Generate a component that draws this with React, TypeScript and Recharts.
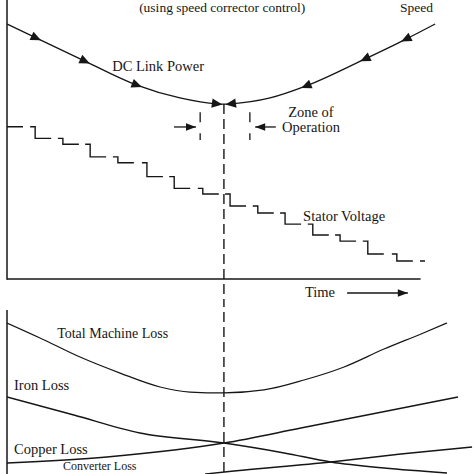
import { ComposedChart, Line, XAxis, YAxis, ReferenceLine, ReferenceDot } from 'recharts'

// time axis is 0..106 (arbitrary units), magnitudes are arbitrary units too

// DC link power (top panel)
const powerTime = [0, 6.6, 17.7, 29.5, 39.3, 47.7, 49.3, 50.9, 59.8, 68.0, 81.4, 90.7, 97.3]
const powerValue = [91.4, 86.4, 78.1, 69.5, 64.9, 62.8, 62.7, 62.8, 64.9, 69.2, 78.9, 86.0, 91.4]
// arrow marker on a point: 1 = pointing to later time, -1 = to earlier time, 0 = none
const powerArrow = [0, 1, 1, 1, 0, 1, 0, -1, 0, -1, -1, -1, 0]

// stator voltage staircase (top panel)
const stepTime = [0, 6.4, 12.7, 18.9, 25.2, 31.8, 38.0, 44.5, 50.7, 57.0, 63.2, 69.5, 75.7, 82.0, 88.6]
const stepLevel = [54.6, 50.4, 48.3, 43.8, 41.7, 36.7, 32.5, 30.5, 26.2, 23.7, 19.7, 15.8, 13.6, 9.0, 6.5]
const stepEnd = 95.0

// losses (bottom panel)
const totalTime = [0, 7.5, 16.6, 25.7, 34.8, 41.6, 49.3, 58.4, 67.5, 76.6, 85.7, 94.1, 100]
const totalLoss = [86.8, 78.2, 67.2, 58.0, 50.0, 47.1, 46.6, 48.3, 54.0, 61.5, 71.8, 80.5, 86.8]
const ironTime = [0, 15.2, 30.2, 49.3, 63.0, 73.6, 85.7, 100]
const ironLoss = [44.3, 33.9, 23.6, 17.8, 12.1, 6.9, 3.4, 0.6]
const copperTime = [0, 22.7, 38.0, 49.3, 66.8, 81.8, 102.5]
const copperLoss = [6.3, 9.8, 13.8, 17.8, 26.4, 33.9, 44.3]
const converterTime = [45, 51.6, 73.6, 89.5, 105.7]
const converterLoss = [0, 1.7, 6.9, 11.5, 15.5]

const optimumTime = 49.3
const zoneStart = 43.9
const zoneEnd = 55.2

const W = 474
const TOP_H = 300
const BOT_H = 174
const X_DOMAIN: [number, number] = [0, 106]
const TOP_DOMAIN: [number, number] = [-7.5, 100]
const BOT_DOMAIN: [number, number] = [0, 100]
const MARGIN = { top: 0, right: 0.6, bottom: 0, left: 7 }
const PX_T = (W - 7.6) / 106
const PX_M = TOP_H / 107.5

const INK = '#161616'
const FONT = '"Liberation Serif", "Times New Roman", serif'

const zip = (ts: number[], vs: number[]) => ts.map((t, i) => ({ t, v: vs[i] }))

const powerData = zip(powerTime, powerValue)

// dashed staircase: each tread drawn as a long dash, a gap, then a short piece before the riser
const DASH = 16 / PX_T
const PIECE = 5 / PX_T
const stepData: { t: number; v: number | null }[] = []
stepLevel.forEach((v, i) => {
  const t0 = stepTime[i]
  const t1 = i + 1 < stepTime.length ? stepTime[i + 1] : stepEnd
  if (i > 0) stepData.push({ t: t0, v: stepLevel[i - 1] })
  stepData.push({ t: t0, v })
  stepData.push({ t: t0 + DASH, v })
  stepData.push({ t: t0 + DASH + 0.01, v: null })
  stepData.push({ t: t1 - PIECE, v })
})
stepData.push({ t: stepEnd, v: stepLevel[stepLevel.length - 1] })

function FlowArrow(props: any) {
  const { cx, cy, index } = props
  const dir = powerArrow[index]
  if (!dir || cx == null) return <g key={`fa${index}`} />
  const i0 = Math.max(0, index - 1)
  const i1 = Math.min(powerTime.length - 1, index + 1)
  const dx = (powerTime[i1] - powerTime[i0]) * PX_T
  const dy = -(powerValue[i1] - powerValue[i0]) * PX_M
  let ang = (Math.atan2(dy, dx) * 180) / Math.PI
  if (dir < 0) ang += 180
  return (
    <polygon
      key={`fa${index}`}
      points="5.5,0 -5,-4.6 -5,4.6"
      transform={`translate(${cx},${cy}) rotate(${ang})`}
      fill={INK}
    />
  )
}

function ArrowLine(props: any) {
  const { x1, y1, x2, y2 } = props
  const ang = (Math.atan2(y2 - y1, x2 - x1) * 180) / Math.PI
  return (
    <g>
      <line x1={x1} y1={y1} x2={x2} y2={y2} stroke={INK} strokeWidth={1.3} />
      <polygon points="0,0 -10,-3.8 -10,3.8" transform={`translate(${x2},${y2}) rotate(${ang})`} fill={INK} />
    </g>
  )
}

const note = (text: string, anchor: 'start' | 'middle' = 'start', size = 14.5) =>
  (p: any) => (
    <text x={p.cx} y={p.cy} textAnchor={anchor} fontSize={size} fontFamily={FONT} fill={INK}>
      {text}
    </text>
  )

export default function App() {
  return (
    <div style={{ position: 'absolute', left: 0, top: 0, width: W, height: W, background: '#fff' }}>
      <ComposedChart width={W} height={TOP_H} margin={MARGIN}>
        <XAxis type="number" dataKey="t" domain={X_DOMAIN} allowDataOverflow hide />
        <YAxis type="number" domain={TOP_DOMAIN} allowDataOverflow hide />
        <ReferenceLine segment={[{ x: 0, y: -0.2 }, { x: 0, y: 100 }]} stroke={INK} strokeWidth={1.5} ifOverflow="visible" />
        <ReferenceLine segment={[{ x: 0, y: 0 }, { x: 94, y: 0 }]} stroke={INK} strokeWidth={1.5} ifOverflow="visible" />
        <ReferenceLine segment={[{ x: optimumTime, y: 62.7 }, { x: optimumTime, y: -7.5 }]} stroke={INK} strokeWidth={1.4} strokeDasharray="10 5" ifOverflow="visible" />
        <ReferenceLine segment={[{ x: zoneStart, y: 59.8 }, { x: zoneStart, y: 49.8 }]} stroke={INK} strokeWidth={1.3} strokeDasharray="10 11" ifOverflow="visible" />
        <ReferenceLine segment={[{ x: zoneEnd, y: 59.8 }, { x: zoneEnd, y: 49.8 }]} stroke={INK} strokeWidth={1.3} strokeDasharray="10 11" ifOverflow="visible" />
        <ReferenceLine segment={[{ x: 37.95, y: 54.5 }, { x: 42.95, y: 54.5 }]} shape={ArrowLine} ifOverflow="visible" />
        <ReferenceLine segment={[{ x: 61.1, y: 54.5 }, { x: 56.4, y: 54.5 }]} shape={ArrowLine} ifOverflow="visible" />
        <ReferenceLine segment={[{ x: 77.3, y: -5.0 }, { x: 91.1, y: -5.0 }]} shape={ArrowLine} ifOverflow="visible" />
        <Line
          data={powerData}
          dataKey="v"
          type="monotone"
          stroke={INK}
          strokeWidth={1.3}
          dot={FlowArrow}
          activeDot={false}
          isAnimationActive={false}
        />
        <Line
          data={stepData}
          dataKey="v"
          type="linear"
          stroke={INK}
          strokeWidth={1.4}
          dot={false}
          activeDot={false}
          connectNulls={false}
          isAnimationActive={false}
        />
        <ReferenceDot x={48.9} y={95.6} r={0} ifOverflow="visible" shape={note('(using speed corrector control)', 'middle', 13.5)} />
        <ReferenceDot x={89.3} y={95.6} r={0} ifOverflow="visible" shape={note('Speed', 'start', 13.5)} />
        <ReferenceDot x={23.9} y={74.5} r={0} ifOverflow="visible" shape={note('DC Link Power')} />
        <ReferenceDot x={63.9} y={58.0} r={0} ifOverflow="visible" shape={note('Zone of')} />
        <ReferenceDot x={62.5} y={52.7} r={0} ifOverflow="visible" shape={note('Operation')} />
        <ReferenceDot x={67.3} y={20.8} r={0} ifOverflow="visible" shape={note('Stator Voltage')} />
        <ReferenceDot x={67.7} y={-6.45} r={0} ifOverflow="visible" shape={note('Time')} />
      </ComposedChart>
      <ComposedChart width={W} height={BOT_H} margin={MARGIN}>
        <XAxis type="number" dataKey="t" domain={X_DOMAIN} allowDataOverflow hide />
        <YAxis type="number" domain={BOT_DOMAIN} allowDataOverflow hide />
        <ReferenceLine segment={[{ x: 0, y: 0 }, { x: 0, y: 94.3 }]} stroke={INK} strokeWidth={1.5} ifOverflow="visible" />
        <ReferenceLine segment={[{ x: optimumTime, y: 100 }, { x: optimumTime, y: 0 }]} stroke={INK} strokeWidth={1.4} strokeDasharray="10 5" strokeDashoffset={3} ifOverflow="visible" />
        <Line data={zip(totalTime, totalLoss)} dataKey="v" type="monotone" stroke={INK} strokeWidth={1.2} dot={false} activeDot={false} isAnimationActive={false} />
        <Line data={zip(ironTime, ironLoss)} dataKey="v" type="monotone" stroke={INK} strokeWidth={1.5} dot={false} activeDot={false} isAnimationActive={false} />
        <Line data={zip(copperTime, copperLoss)} dataKey="v" type="monotone" stroke={INK} strokeWidth={1.5} dot={false} activeDot={false} isAnimationActive={false} />
        <Line data={zip(converterTime, converterLoss)} dataKey="v" type="monotone" stroke={INK} strokeWidth={1.5} dot={false} activeDot={false} isAnimationActive={false} />
        <ReferenceDot x={11.4} y={78.2} r={0} ifOverflow="visible" shape={note('Total Machine Loss', 'start', 14)} />
        <ReferenceDot x={1.6} y={48.3} r={0} ifOverflow="visible" shape={note('Iron Loss')} />
        <ReferenceDot x={1.6} y={11.5} r={0} ifOverflow="visible" shape={note('Copper Loss')} />
        <ReferenceDot x={12.7} y={2.4} r={0} ifOverflow="visible" shape={note('Converter Loss', 'start', 12)} />
      </ComposedChart>
    </div>
  )
}
